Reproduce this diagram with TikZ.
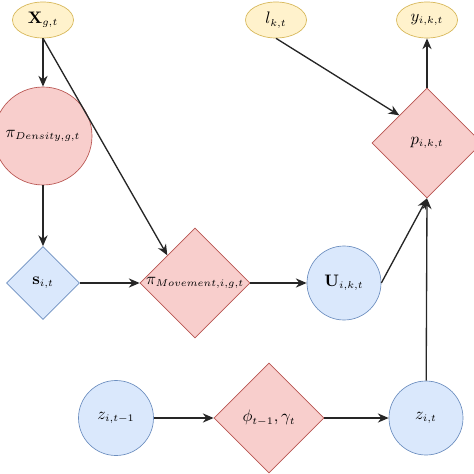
\documentclass[tikz,border=0pt]{standalone}
\usetikzlibrary{shapes.geometric,arrows.meta}
\DeclareMathSizes{10}{10}{6}{5}
\definecolor{obsfill}{HTML}{FFF2CC}
\definecolor{obsline}{HTML}{D6B656}
\definecolor{detfill}{HTML}{F8CECC}
\definecolor{detline}{HTML}{B85450}
\definecolor{latfill}{HTML}{DAE8FC}
\definecolor{latline}{HTML}{6C8EBF}
\begin{document}
\begin{tikzpicture}[x=0.6pt,y=-0.6pt,
    obs/.style={ellipse, draw=obsline, fill=obsfill, minimum width=36.6pt, minimum height=21.6pt, inner sep=0pt},
    lat/.style={circle, draw=latline, fill=latfill, minimum size=#1, inner sep=0pt},
    det/.style={diamond, draw=detline, fill=detfill, minimum width=#1, minimum height=#1, inner sep=0pt, aspect=1},
    arr/.style={-{Stealth[length=6.5pt,width=5.5pt]}, line width=0.8pt, black!85}]
    \useasboundingbox (0,0) rectangle (474,474);
    % top row
    \node[obs] (X) at (43,20) {$\mathbf{X}_{g,t}$};
    \node[obs] (l) at (276,20) {$l_{k,t}$};
    \node[obs] (y) at (427,20) {$y_{i,k,t}$};
    % density and selection
    \node[circle, draw=detline, fill=detfill, minimum size=58.8pt, inner sep=0pt] (dens) at (43,136) {$\pi_{Density,g,t}$};
    \node[det=43.8pt, draw=latline, fill=latfill] (s) at (43,283) {$\mathbf{s}_{i,t}$};
    \node[det=66pt] (move) at (195,283) {$\pi_{Movement,i,g,t}$};
    \node[lat=44.4pt] (U) at (344,283) {$\mathbf{U}_{i,k,t}$};
    \node[det=66pt] (p) at (427,143) {$p_{i,k,t}$};
    % bottom row
    \node[lat=45pt] (zprev) at (116,418) {$z_{i,t-1}$};
    \node[det=66pt] (phi) at (269,418) {$\phi_{t-1},\gamma_t$};
    \node[lat=44.4pt] (z) at (426,418) {$z_{i,t}$};
    \draw[arr] (X) -- (dens);
    \draw[arr] (X.south) -- (move.north west);
    \draw[arr] (dens) -- (s);
    \draw[arr] (s) -- (move);
    \draw[arr] (move) -- (U);
    \draw[arr] (U.east) -- (p.south);
    \draw[arr] (l.south) -- (p.north west);
    \draw[arr] (p) -- (y);
    \draw[arr] (zprev) -- (phi);
    \draw[arr] (phi) -- (z);
    \draw[arr] (z) -- (p.south);
  \end{tikzpicture}
\end{document}
